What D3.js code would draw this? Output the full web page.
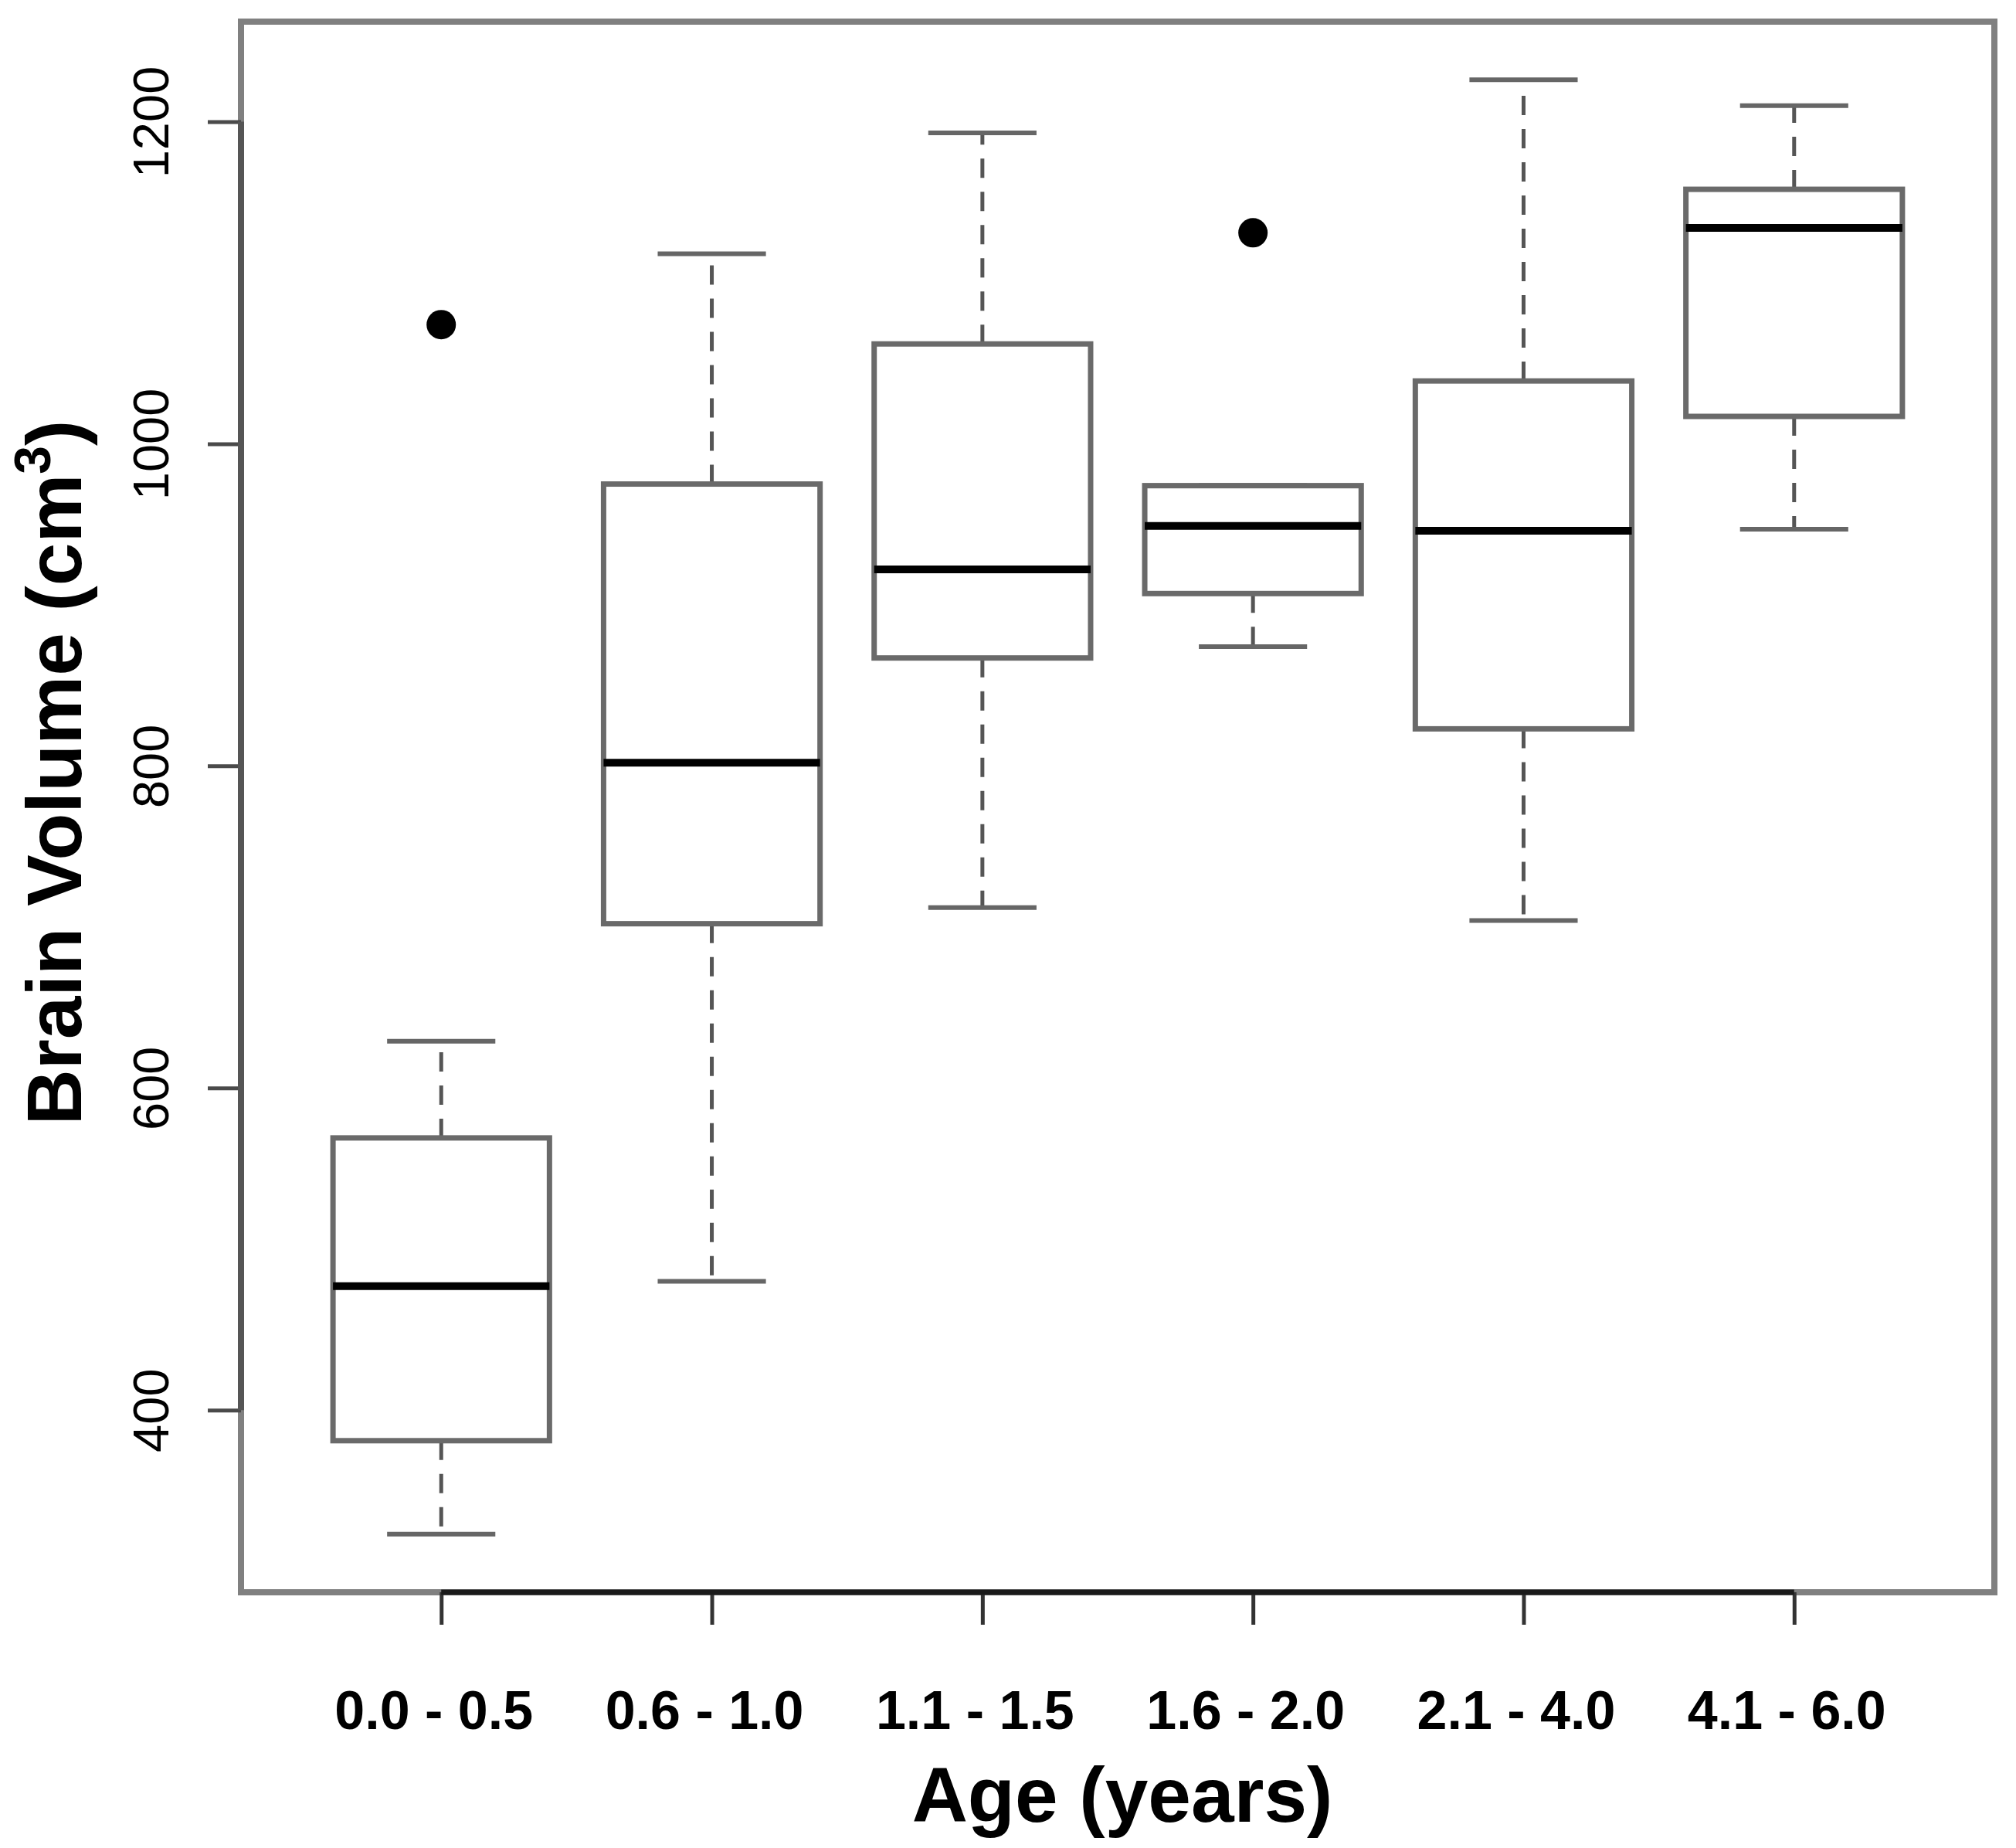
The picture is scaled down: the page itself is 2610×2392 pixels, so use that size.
<!DOCTYPE html>
<html>
<head>
<meta charset="utf-8">
<script src="https://cdn.jsdelivr.net/npm/d3@7"></script>
<style>
  body { margin: 0; background: #fff; }
  svg { display: block; }
  text { font-family: "Liberation Sans", Arial, Helvetica, sans-serif; fill: #000; }
</style>
</head>
<body>
<svg id="chart" width="2610" height="2392"></svg>
<script>

  // box statistics (cm3)
  var categories = ['0.0 - 0.5', '0.6 - 1.0', '1.1 - 1.5', '1.6 - 2.0', '2.1 - 4.0', '4.1 - 6.0'];
  var whiskerLow  = [323, 480, 712, 874, 704, 947];
  var lowerQuart  = [381, 702, 867, 907, 823, 1017];
  var medians     = [477, 802, 922, 949, 946, 1134];
  var upperQuart  = [569, 975, 1062, 974, 1039, 1158];
  var whiskerHigh = [629, 1118, 1193, 974, 1226, 1210];
  var outliers    = [[1074], [], [], [1131], [], []];
  var yTicks = [400, 600, 800, 1000, 1200];

  var dims = { left: 312, top: 28, right: 2582, bottom: 2061 };

  var groups = categories.map(function(c, i) {
    return {
      label: c, pos: i + 1,
      lo: whiskerLow[i], q1: lowerQuart[i], med: medians[i],
      q3: upperQuart[i], hi: whiskerHigh[i], out: outliers[i]
    };
  });

  // R style: xlim 0.5..n+0.5, both axes padded by 4%
  var n = categories.length;
  var x = d3.scaleLinear()
    .domain([0.5 - 0.04 * n, n + 0.5 + 0.04 * n])
    .range([dims.left, dims.right]);

  var allVals = whiskerLow.concat(whiskerHigh, d3.merge(outliers));
  var ext = d3.extent(allVals), pad = (ext[1] - ext[0]) * 0.04;
  var y = d3.scaleLinear()
    .domain([ext[0] - pad, ext[1] + pad])
    .range([dims.bottom, dims.top]);

  var svg = d3.select('#chart');

  var boxHalf = x(1.4) - x(1),
      capHalf = x(1.2) - x(1);

  var g = svg.selectAll('.group').data(groups).enter().append('g').attr('class', 'group');

  // whiskers
  g.append('line')
    .attr('x1', function(d) { return x(d.pos); })
    .attr('x2', function(d) { return x(d.pos); })
    .attr('y1', function(d) { return y(d.q3); })
    .attr('y2', function(d) { return y(d.hi); })
    .attr('stroke', '#555').attr('stroke-width', 5).attr('stroke-dasharray', '25,18');
  g.append('line')
    .attr('x1', function(d) { return x(d.pos); })
    .attr('x2', function(d) { return x(d.pos); })
    .attr('y1', function(d) { return y(d.q1); })
    .attr('y2', function(d) { return y(d.lo); })
    .attr('stroke', '#555').attr('stroke-width', 5).attr('stroke-dasharray', '25,18');

  // caps
  g.selectAll('.cap')
    .data(function(d) { return [{ p: d.pos, v: d.hi }, { p: d.pos, v: d.lo }]; })
    .enter().append('line').attr('class', 'cap')
    .attr('x1', function(d) { return x(d.p) - capHalf; })
    .attr('x2', function(d) { return x(d.p) + capHalf; })
    .attr('y1', function(d) { return y(d.v); })
    .attr('y2', function(d) { return y(d.v); })
    .attr('stroke', '#666').attr('stroke-width', 6);

  // boxes
  g.append('rect')
    .attr('x', function(d) { return x(d.pos) - boxHalf; })
    .attr('width', boxHalf * 2)
    .attr('y', function(d) { return y(d.q3); })
    .attr('height', function(d) { return y(d.q1) - y(d.q3); })
    .attr('fill', '#fff').attr('stroke', '#6a6a6a').attr('stroke-width', 7);

  // medians
  g.append('line')
    .attr('x1', function(d) { return x(d.pos) - boxHalf; })
    .attr('x2', function(d) { return x(d.pos) + boxHalf; })
    .attr('y1', function(d) { return y(d.med); })
    .attr('y2', function(d) { return y(d.med); })
    .attr('stroke', '#000').attr('stroke-width', 10);

  // outliers
  g.selectAll('.out')
    .data(function(d) { return d.out.map(function(v) { return { p: d.pos, v: v }; }); })
    .enter().append('circle').attr('class', 'out')
    .attr('cx', function(d) { return x(d.p); })
    .attr('cy', function(d) { return y(d.v); })
    .attr('r', 19).attr('fill', '#000');

  // frame
  svg.append('rect')
    .attr('x', dims.left).attr('y', dims.top)
    .attr('width', dims.right - dims.left).attr('height', dims.bottom - dims.top)
    .attr('fill', 'none').attr('stroke', '#808080').attr('stroke-width', 8);

  // y axis
  var yAxis = svg.append('g')
    .attr('transform', 'translate(' + dims.left + ',0)')
    .call(d3.axisLeft(y).tickValues(yTicks).tickFormat(d3.format('d'))
      .tickSize(43).tickSizeOuter(0));
  yAxis.select('.domain').remove();
  yAxis.selectAll('.tick line').attr('stroke', '#4a4a4a').attr('stroke-width', 5);
  yAxis.selectAll('.tick text')
    .attr('x', 0).attr('dy', 0)
    .attr('transform', 'translate(-94,0) rotate(-90)')
    .attr('text-anchor', 'middle')
    .style('font-size', '65px').style('font-family', null).attr('fill', '#000');
  yAxis.append('line')
    .attr('x1', 0).attr('x2', 0)
    .attr('y1', y(yTicks[0])).attr('y2', y(yTicks[yTicks.length - 1]))
    .attr('stroke', '#555').attr('stroke-width', 8);

  // x axis
  var xAxis = svg.append('g')
    .attr('transform', 'translate(0,' + dims.bottom + ')')
    .call(d3.axisBottom(x).tickValues(d3.range(1, n + 1))
      .tickFormat(function(d) { return categories[d - 1]; })
      .tickSize(42).tickSizeOuter(0));
  xAxis.select('.domain').remove();
  xAxis.selectAll('.tick line').attr('stroke', '#333').attr('stroke-width', 5);
  xAxis.selectAll('.tick text')
    .attr('y', 177).attr('dy', 0).attr('dx', -10)
    .style('font-size', '70px').style('font-weight', 'bold').style('font-family', null)
    .attr('fill', '#000');
  xAxis.append('line')
    .attr('x1', x(1)).attr('x2', x(n))
    .attr('y1', 0).attr('y2', 0)
    .attr('stroke', '#1a1a1a').attr('stroke-width', 7);

  // axis titles
  svg.append('text')
    .attr('x', 1453).attr('y', 2358)
    .attr('text-anchor', 'middle')
    .style('font-size', '100px').style('font-weight', 'bold')
    .text('Age (years)');

  var yTitle = svg.append('text')
    .attr('transform', 'translate(105,1000) rotate(-90)')
    .attr('text-anchor', 'middle')
    .style('font-size', '100px').style('font-weight', 'bold');
  yTitle.append('tspan').text('Brain Volume (cm');
  yTitle.append('tspan').attr('dy', -40).style('font-size', '66px').text('3');
  yTitle.append('tspan').attr('dy', 40).text(')');

</script>
</body>
</html>
